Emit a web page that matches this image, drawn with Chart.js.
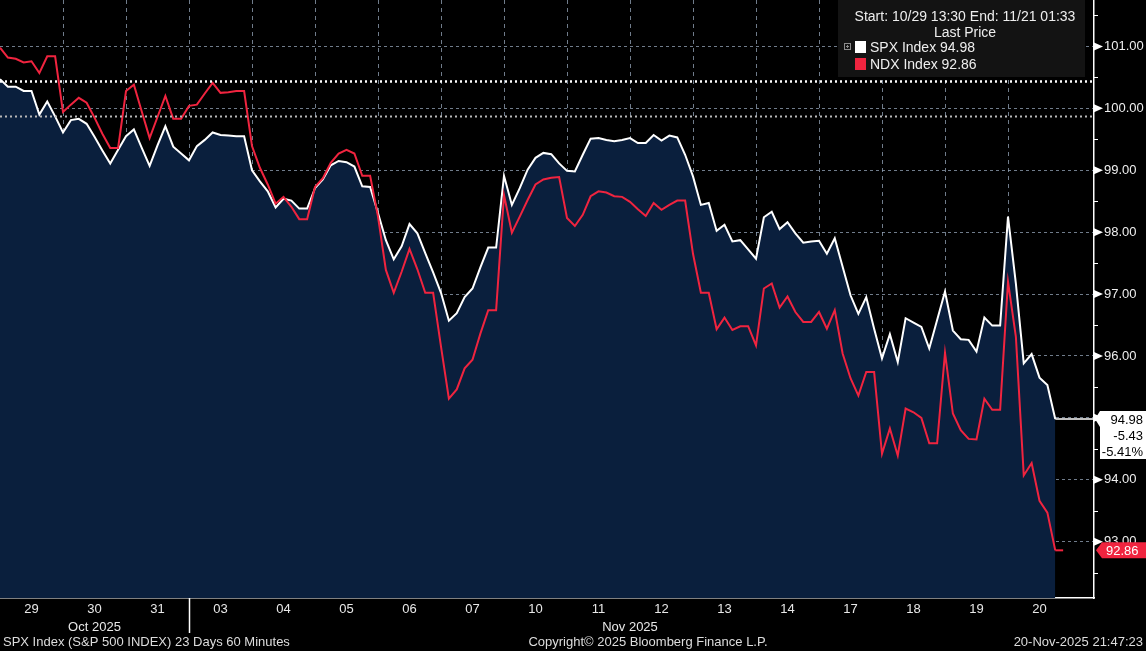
<!DOCTYPE html>
<html>
<head>
<meta charset="utf-8">
<title>SPX vs NDX - Last Price</title>
<script src="https://cdn.jsdelivr.net/npm/chart.js@4.4.1/dist/chart.umd.min.js"></script>
<style>
  html, body { margin: 0; padding: 0; background: #000; }
  #wrap { width: 1146px; height: 651px; position: relative; }
</style>
</head>
<body>
<div id="wrap"><canvas id="chart"></canvas></div>
<script>
// trading days shown on the x axis, 8 hourly bars per day
const dayLabels = ["29", "30", "31", "03", "04", "05", "06", "07", "10", "11", "12", "13", "14", "17", "18", "19", "20"];
const barsPerDay = 8;
const monthLabels = ["Oct 2025", "Nov 2025"];
const monthFirstDay = [0, 3]; // index into dayLabels where each month starts

// normalised last price, one value per 60 minute bar
const spxValues = [
  100.47, 100.35, 100.35, 100.28, 100.28, 99.90, 100.11, 99.87,
  99.61, 99.81, 99.83, 99.75, 99.54, 99.32, 99.11, 99.33,
  99.55, 99.66, 99.36, 99.07, 99.40, 99.71, 99.38, 99.27,
  99.16, 99.39, 99.49, 99.61, 99.57, 99.56, 99.55, 99.55,
  99.00, 98.82, 98.66, 98.40, 98.54, 98.51, 98.38, 98.38,
  98.71, 98.85, 99.08, 99.15, 99.13, 99.06, 98.74, 98.73,
  98.31, 97.87, 97.56, 97.77, 98.13, 97.98, 97.66, 97.35,
  97.02, 96.57, 96.69, 96.95, 97.09, 97.43, 97.75, 97.75,
  98.91, 98.44, 98.71, 99.01, 99.20, 99.28, 99.26, 99.11,
  98.99, 98.98, 99.25, 99.51, 99.52, 99.49, 99.47, 99.49,
  99.52, 99.44, 99.44, 99.57, 99.48, 99.56, 99.53, 99.25,
  98.90, 98.44, 98.47, 98.02, 98.12, 97.85, 97.87, 97.72,
  97.57, 98.24, 98.33, 98.05, 98.16, 97.98, 97.83, 97.85,
  97.86, 97.65, 97.90, 97.44, 96.98, 96.68, 96.95, 96.44,
  95.96, 96.35, 95.90, 96.61, 96.54, 96.47, 96.12, 96.58,
  97.04, 96.41, 96.27, 96.26, 96.07, 96.62, 96.49, 96.49,
  98.25, 97.17, 95.88, 96.03, 95.65, 95.53, 94.98
];
const ndxValues = [
  100.98, 100.82, 100.80, 100.74, 100.76, 100.57, 100.84, 100.84,
  99.94, 100.06, 100.17, 100.09, 99.85, 99.59, 99.36, 99.36,
  100.28, 100.38, 99.95, 99.52, 99.86, 100.20, 99.83, 99.83,
  100.04, 100.06, 100.24, 100.41, 100.25, 100.26, 100.28, 100.28,
  99.39, 99.04, 98.77, 98.46, 98.57, 98.41, 98.21, 98.21,
  98.73, 98.87, 99.12, 99.27, 99.33, 99.27, 98.91, 98.91,
  98.25, 97.39, 97.02, 97.36, 97.73, 97.40, 97.02, 97.02,
  96.15, 95.31, 95.46, 95.80, 95.94, 96.36, 96.74, 96.74,
  98.60, 97.99, 98.25, 98.52, 98.77, 98.85, 98.88, 98.89,
  98.23, 98.10, 98.28, 98.58, 98.66, 98.64, 98.58, 98.57,
  98.49, 98.37, 98.26, 98.47, 98.36, 98.44, 98.51, 98.51,
  97.65, 97.02, 97.02, 96.43, 96.62, 96.42, 96.48, 96.48,
  96.17, 97.09, 97.17, 96.78, 96.96, 96.71, 96.55, 96.55,
  96.71, 96.44, 96.74, 96.04, 95.64, 95.36, 95.74, 95.74,
  94.42, 94.83, 94.39, 95.15, 95.09, 95.00, 94.59, 94.59,
  96.05, 95.07, 94.80, 94.66, 94.65, 95.31, 95.13, 95.13,
  97.20, 96.31, 94.07, 94.27, 93.66, 93.47, 92.86
];

const yTickValues = [93, 94, 95, 96, 97, 98, 99, 100, 101];
const yMinorValues = [92.5, 93.5, 94.5, 95.5, 96.5, 97.5, 98.5, 99.5, 100.5, 101.5];
const refWhite = 100.44;
const refGrey = 99.88;
const spxChange = "-5.43";
const spxChangePct = "-5.41%";

const titleText = "Start: 10/29 13:30 End: 11/21 01:33";
const subTitleText = "Last Price";
const footLeft = "SPX Index (S&P 500 INDEX) 23 Days 60 Minutes";
const footMid = "Copyright\u00A9 2025 Bloomberg Finance L.P.";
const footRight = "20-Nov-2025 21:47:23";

const RED = "#f0243f";
const NAVY = "#0a1f3d";
const GRID = "rgba(150,165,185,0.75)";
const FONT = '"Liberation Sans", Arial, sans-serif';

const xMax = 138.92;
const lastIdx = spxValues.length - 1;
const spxLast = spxValues[lastIdx];
const ndxLast = ndxValues[lastIdx];

const spxPoints = spxValues.map((v, i) => ({ x: i, y: v }));
const ndxPoints = ndxValues.map((v, i) => ({ x: i, y: v }));

const decor = {
  id: "decor",
  beforeDatasetsDraw(chart) {
    const ctx = chart.ctx;
    ctx.save();
    ctx.fillStyle = "#131313";
    ctx.fillRect(838, 0, 247, 77);
    ctx.restore();
  },
  afterDatasetsDraw(chart) {
    const { ctx, chartArea, scales: { y } } = chart;
    ctx.save();
    ctx.setLineDash([2, 3]);
    ctx.lineWidth = 2.5;
    ctx.strokeStyle = "#ffffff";
    let py = Math.round(y.getPixelForValue(refWhite)) + 0.5;
    ctx.beginPath(); ctx.moveTo(chartArea.left, py); ctx.lineTo(chartArea.right, py); ctx.stroke();
    ctx.lineWidth = 2;
    ctx.strokeStyle = "#b8b8b8";
    py = Math.round(y.getPixelForValue(refGrey)) + 0.5;
    ctx.beginPath(); ctx.moveTo(chartArea.left, py); ctx.lineTo(chartArea.right, py); ctx.stroke();
    ctx.restore();
  },
  afterDraw(chart) {
    const { ctx, chartArea, scales: { x, y } } = chart;
    const right = chartArea.right;
    ctx.save();

    // legend text
    ctx.font = "14px " + FONT;
    ctx.fillStyle = "#eeeeee";
    ctx.textAlign = "center";
    ctx.textBaseline = "middle";
    ctx.fillText(titleText, 965, 17);
    ctx.fillText(subTitleText, 965, 33);
    ctx.textAlign = "left";
    ctx.strokeStyle = "#8a8a8a";
    ctx.lineWidth = 1;
    ctx.strokeRect(844.5, 43.5, 6, 6);
    ctx.beginPath(); ctx.moveTo(846, 46.5); ctx.lineTo(849, 46.5); ctx.moveTo(847.5, 45); ctx.lineTo(847.5, 48); ctx.stroke();
    ctx.fillStyle = "#ffffff";
    ctx.fillRect(855, 41, 11, 12);
    ctx.fillStyle = RED;
    ctx.fillRect(855, 58, 11, 12);
    ctx.fillStyle = "#eeeeee";
    ctx.fillText("SPX Index " + spxLast.toFixed(2), 870, 48);
    ctx.fillText("NDX Index " + ndxLast.toFixed(2), 870, 65);

    // right axis markers
    ctx.font = "13px " + FONT;
    ctx.fillStyle = "#ffffff";
    yTickValues.forEach(v => {
      const py = y.getPixelForValue(v);
      ctx.beginPath();
      ctx.moveTo(right, py - 4); ctx.lineTo(right + 9, py); ctx.lineTo(right, py + 4);
      ctx.closePath(); ctx.fill();
    });
    ctx.strokeStyle = "#ffffff";
    ctx.lineWidth = 1;
    yMinorValues.forEach(v => {
      const py = Math.round(y.getPixelForValue(v)) + 0.5;
      ctx.beginPath(); ctx.moveTo(right, py); ctx.lineTo(right + 4, py); ctx.stroke();
    });

    // last price tags
    let ty = y.getPixelForValue(spxLast);
    ctx.fillStyle = "#ffffff";
    ctx.beginPath();
    ctx.moveTo(right + 1, ty); ctx.lineTo(right + 6, ty - 8); ctx.lineTo(1146, ty - 8);
    ctx.lineTo(1146, ty + 40); ctx.lineTo(right + 6, ty + 40); ctx.lineTo(right + 6, ty + 8);
    ctx.closePath(); ctx.fill();
    ctx.fillStyle = "#000000";
    ctx.textAlign = "right";
    ctx.fillText(spxLast.toFixed(2), 1143, ty + 1);
    ctx.fillText(spxChange, 1143, ty + 17);
    ctx.fillText(spxChangePct, 1143, ty + 33);

    ty = y.getPixelForValue(ndxLast);
    ctx.fillStyle = RED;
    ctx.beginPath();
    ctx.moveTo(right + 2, ty); ctx.lineTo(right + 8, ty - 8); ctx.lineTo(1146, ty - 8);
    ctx.lineTo(1146, ty + 8); ctx.lineTo(right + 8, ty + 8);
    ctx.closePath(); ctx.fill();
    ctx.fillStyle = "#ffffff";
    ctx.textAlign = "left";
    ctx.fillText(ndxLast.toFixed(2), 1106, ty + 1);

    // month labels and separator
    ctx.fillStyle = "#e8e8e8";
    ctx.textAlign = "center";
    monthLabels.forEach((m, k) => {
      const first = monthFirstDay[k];
      const last = k + 1 < monthFirstDay.length ? monthFirstDay[k + 1] - 1 : dayLabels.length - 1;
      const cx = (x.getPixelForValue(first * barsPerDay + barsPerDay / 2) + x.getPixelForValue(last * barsPerDay + barsPerDay / 2)) / 2;
      ctx.fillText(m, cx, 627);
    });
    ctx.strokeStyle = "#ffffff";
    ctx.lineWidth = 1.5;
    monthFirstDay.slice(1).forEach(d => {
      const px = Math.round(x.getPixelForValue(d * barsPerDay)) + 0.5;
      ctx.beginPath(); ctx.moveTo(px, chartArea.bottom); ctx.lineTo(px, 633); ctx.stroke();
    });

    // footer
    ctx.fillStyle = "#dddddd";
    ctx.textAlign = "left";
    ctx.fillText(footLeft, 3, 642);
    ctx.textAlign = "center";
    ctx.fillText(footMid, 648, 642);
    ctx.textAlign = "right";
    ctx.fillText(footRight, 1143, 642);
    ctx.restore();
  }
};

const config = {
  type: "line",
  data: {
    datasets: [
      {
        label: "SPX Index",
        data: spxPoints,
        borderColor: "#ffffff",
        borderWidth: 2,
        backgroundColor: NAVY,
        fill: "start",
        pointRadius: 0,
        order: 1,
      },
      {
        label: "NDX Index",
        data: ndxPoints,
        borderColor: RED,
        borderWidth: 2,
        fill: false,
        pointRadius: 0,
        order: 0,
      },
      {
        label: "SPX last",
        data: [{ x: lastIdx, y: spxLast }, { x: xMax, y: spxLast }],
        borderColor: "#ffffff",
        borderWidth: 1.5,
        fill: false,
        pointRadius: 0,
        order: 2,
      },
      {
        label: "NDX last",
        data: [{ x: lastIdx, y: ndxLast }, { x: lastIdx + 1, y: ndxLast }],
        borderColor: RED,
        borderWidth: 2,
        fill: false,
        pointRadius: 0,
        order: 2,
      },
    ],
  },
  options: {
    responsive: true,
    maintainAspectRatio: false,
    animation: false,
    layout: { padding: 0 },
    plugins: {
      legend: { display: false },
      tooltip: { enabled: false },
    },
    scales: {
      x: {
        type: "linear",
        min: 0,
        max: xMax,
        z: 1,
        afterFit: s => { s.height = 53; s.paddingLeft = 0; s.paddingRight = 0; },
        afterBuildTicks: s => {
          const t = [];
          for (let k = 0; k < dayLabels.length; k++) {
            if (k > 0) t.push({ value: k * barsPerDay });
            t.push({ value: k * barsPerDay + barsPerDay / 2 });
          }
          s.ticks = t;
        },
        ticks: {
          autoSkip: false,
          maxRotation: 0,
          padding: 4,
          color: "#e8e8e8",
          font: { family: FONT, size: 13 },
          callback: v => (v % barsPerDay === barsPerDay / 2 ? dayLabels[(v - barsPerDay / 2) / barsPerDay] : ""),
        },
        grid: {
          drawTicks: false,
          lineWidth: 1,
          color: c => (c.tick && c.tick.value % barsPerDay === 0 ? GRID : "rgba(0,0,0,0)"),
        },
        border: { display: true, color: "#ffffff", width: 1.5, dash: [4, 4] },
      },
      y: {
        position: "right",
        min: 92.09,
        max: 101.75,
        z: 1,
        afterFit: s => { s.width = 52; s.paddingTop = 0; s.paddingBottom = 0; },
        afterBuildTicks: s => { s.ticks = yTickValues.map(v => ({ value: v })); },
        ticks: {
          padding: 10,
          color: "#eeeeee",
          font: { family: FONT, size: 13 },
          callback: v => v.toFixed(2),
        },
        grid: { drawTicks: false, lineWidth: 1, color: GRID },
        border: { display: true, color: "#ffffff", width: 1.5, dash: [3, 3] },
      },
    },
  },
  plugins: [decor],
};

const chartCtx = document.getElementById("chart");
window.myChart = new Chart(chartCtx, config);
</script>
</body>
</html>
